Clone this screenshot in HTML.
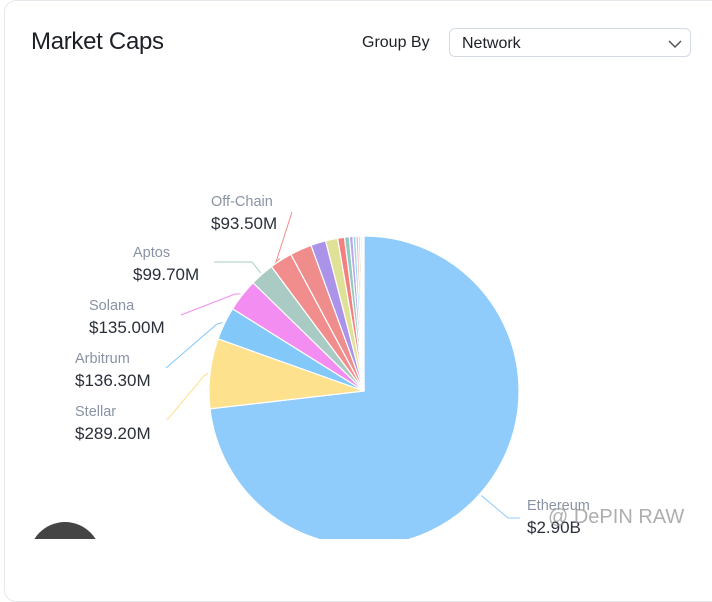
<!DOCTYPE html>
<html><head><meta charset="utf-8"><style>
body{margin:0;width:712px;height:539px;overflow:hidden;background:#fff;font-family:"Liberation Sans",sans-serif;}
#card{position:absolute;left:4px;top:0;width:740px;height:600px;border:1px solid #e6e8ee;border-radius:12px;}
#title{position:absolute;left:31px;top:28px;font-size:24px;color:#1c1f26;letter-spacing:-0.3px}
#gb{position:absolute;left:362px;top:34px;font-size:16px;color:#1c1f26}
#sel{position:absolute;left:449px;top:28px;width:242px;height:29px;border:1px solid #d5dbe3;border-radius:6px;box-sizing:border-box;font-size:16px;color:#1c1f26;padding:6px 12px}
svg{position:absolute;left:0;top:0}
</style></head><body>
<div id="card"></div>
<div id="title">Market Caps</div>
<div id="gb">Group By</div>
<div id="sel">Network<svg width="14" height="10" style="left:218px;top:10px"><path d="M1 2 L7 8 L13 2" fill="none" stroke="#555" stroke-width="1.5"/></svg></div>
<svg id="chart" width="712" height="539"></svg>
<script>
const names=["Ethereum","Stellar","Arbitrum","Solana","Aptos","Off-Chain","o1","o2","o3","o4","o5","o6","o7","o8","o9","o10","o11","o12"];
const values=[2900,289.2,136.3,135.0,99.7,93.5,90,62,50,28,20,15,12,10,8,6,5,4];
const valueLabels=["$2.90B","$289.20M","$136.30M","$135.00M","$99.70M","$93.50M"];
const colors=["#8fcbfb","#fde18c","#82c8f8","#f48df2","#a9cbc3","#f28d8d","#ef8c8c","#ab93ea","#dfe296","#f37f7f","#94c9c0","#b9a5e8","#9ad7ee","#f4b0b0","#c3d99a","#8fb8ee","#d7a6e6","#a6d3e8"];
const cx=364,cy=391,R=155;
const svg=document.getElementById('chart');
const NS="http://www.w3.org/2000/svg";
const total=values.reduce((a,b)=>a+b,0);
function pt(a,r){return [cx+r*Math.sin(a),cy-r*Math.cos(a)];}
// layout: label text x / name baseline, leader elbow and end
const labelPos=[[527,510],[75,416],[75,363],[89,310],[133,257],[211,206]];
const elbows=[[508,518],[204,376],[217,324],[235,294],[252,262],[276,262]];
const ends=[[520,518],[167,420],[166,368],[181,315],[214,262],[292,212]];
let a0=0;
values.forEach((v,i)=>{
  const a1=a0+v/total*2*Math.PI;
  const p0=pt(a0,R),p1=pt(a1,R);
  const large=(a1-a0)>Math.PI?1:0;
  const path=document.createElementNS(NS,'path');
  path.setAttribute('d',`M${cx},${cy} L${p0[0]},${p0[1]} A${R},${R} 0 ${large} 1 ${p1[0]},${p1[1]} Z`);
  path.setAttribute('fill',colors[i]);
  path.setAttribute('stroke','#fff');
  path.setAttribute('stroke-width','1.2');
  
  
  svg.appendChild(path);
  if(i<6){
    const am=(a0+a1)/2;
    const s=pt(am,R+2);
    const e=elbows[i],f=ends[i];
    const lp=labelPos[i];
    const line=document.createElementNS(NS,'polyline');
    line.setAttribute('points',`${s[0]},${s[1]} ${e[0]},${e[1]} ${f[0]},${f[1]}`);
    line.setAttribute('fill','none');
    line.setAttribute('stroke',colors[i]);
    line.setAttribute('stroke-width','1');
    
    
    svg.appendChild(line);
    const t1=document.createElementNS(NS,'text');
    t1.setAttribute('x',lp[0]);t1.setAttribute('y',lp[1]);
    t1.setAttribute('font-size','14.5');t1.setAttribute('fill','#8a93a3');
    t1.setAttribute('font-family','Liberation Sans, sans-serif');
    t1.textContent=names[i];
    
    
    svg.appendChild(t1);
    const t2=document.createElementNS(NS,'text');
    t2.setAttribute('x',lp[0]);t2.setAttribute('y',lp[1]+23);
    t2.setAttribute('font-size','17');t2.setAttribute('fill','#2a2f3a');
    t2.setAttribute('font-family','Liberation Sans, sans-serif');
    t2.textContent=valueLabels[i];
    
    
    svg.appendChild(t2);
  }
  a0=a1;
});
const c=document.createElementNS(NS,'circle');
c.setAttribute('cx',65);c.setAttribute('cy',558);c.setAttribute('r',36);c.setAttribute('fill','#444');


svg.appendChild(c);
const w=document.createElementNS(NS,'text');
w.setAttribute('x',548);w.setAttribute('y',523);w.setAttribute('font-size','20');w.setAttribute('fill','#9a9a9a');w.setAttribute('opacity','0.8');
w.setAttribute('font-family','Liberation Sans, sans-serif');
w.textContent='@ DePIN RAW';


svg.appendChild(w);
</script>
</body></html>
